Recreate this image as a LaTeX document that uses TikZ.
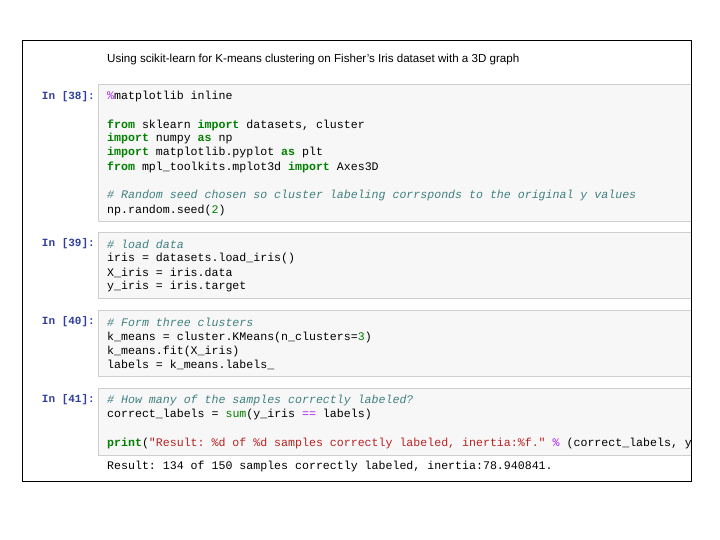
\documentclass[tikz,border=0pt]{standalone}
\usepackage{fontspec}
\setmainfont{Liberation Sans}
\setmonofont{Liberation Mono}
\definecolor{kwc}{RGB}{0,128,0}
\definecolor{cmc}{RGB}{64,128,128}
\definecolor{stc}{RGB}{186,33,33}
\definecolor{opc}{RGB}{170,34,255}
\definecolor{prc}{RGB}{48,63,159}
\definecolor{cellbg}{RGB}{247,247,247}
\definecolor{cellbd}{RGB}{207,207,207}
\newcommand{\kw}[1]{\textcolor{kwc}{\bfseries #1}}
\newcommand{\cm}[1]{\textcolor{cmc}{\itshape #1}}
\newcommand{\strc}[1]{\textcolor{stc}{#1}}
\newcommand{\nmc}[1]{\textcolor{kwc}{#1}}
\newcommand{\opr}[1]{\textcolor{opc}{#1}}
\begin{document}
\begin{tikzpicture}[x=1pt,y=-1pt,
  code/.style={anchor=west,inner sep=0pt,font=\ttfamily\fontsize{11.6}{14}\selectfont},
  prompt/.style={anchor=east,inner sep=0pt,text=prc,font=\ttfamily\bfseries\fontsize{11}{14}\selectfont},
  cellbox/.style={fill=cellbg,draw=cellbd,line width=0.8pt}]
\useasboundingbox (0,0) rectangle (720,540);
\fill[white] (0,0) rectangle (720,540);
\begin{scope}
\clip (22,40) rectangle (691,481);
\draw[cellbox] (98,84) rectangle (700,221);
\draw[cellbox] (98,232) rectangle (700,298);
\draw[cellbox] (98,310) rectangle (700,376);
\draw[cellbox] (98,388) rectangle (700,455);
\node[anchor=west,inner sep=0pt,font=\fontsize{11.6}{13}\selectfont] (title) at (107,60) {Using scikit-learn for K-means clustering on Fisher's Iris dataset with a 3D graph};
\node[prompt] (p1) at (95,97) {In [38]:};
\node[code] (a1) at (107,97) {\opr{\%}matplotlib inline};
\node[code] (a2) at (107,125) {\kw{from} sklearn \kw{import} datasets, cluster};
\node[code] (a3) at (107,139) {\kw{import} numpy \kw{as} np};
\node[code] (a4) at (107,153) {\kw{import} matplotlib.pyplot \kw{as} plt};
\node[code] (a5) at (107,167) {\kw{from} mpl\_toolkits.mplot3d \kw{import} Axes3D};
\node[code] (a6) at (107,196) {\cm{\# Random seed chosen so cluster labeling corrsponds to the original y values}};
\node[code] (a7) at (107,211) {np.random.seed(\nmc{2})};
\node[prompt] (p2) at (95,244) {In [39]:};
\node[code] (b1) at (107,244) {\cm{\# load data}};
\node[code] (b2) at (107,259) {iris = datasets.load\_iris()};
\node[code] (b3) at (107,273) {X\_iris = iris.data};
\node[code] (b4) at (107,287) {y\_iris = iris.target};
\node[prompt] (p3) at (95,322) {In [40]:};
\node[code] (c1) at (107,322) {\cm{\# Form three clusters}};
\node[code] (c2) at (107,337) {k\_means = cluster.KMeans(n\_clusters=\nmc{3})};
\node[code] (c3) at (107,351) {k\_means.fit(X\_iris)};
\node[code] (c4) at (107,365) {labels = k\_means.labels\_};
\node[prompt] (p4) at (95,400) {In [41]:};
\node[code] (d1) at (107,400) {\cm{\# How many of the samples correctly labeled?}};
\node[code] (d2) at (107,414) {correct\_labels = \nmc{sum}(y\_iris \opr{==} labels)};
\node[code] (d3) at (107,443) {\kw{print}(\strc{"Result: \%d of \%d samples correctly labeled, inertia:\%f."} \opr{\%} (correct\_labels, y};
\node[code] (o1) at (107,466) {Result: 134 of 150 samples correctly labeled, inertia:78.940841.};
\end{scope}
\draw[black,line width=0.8pt] (22,40) rectangle (691,481);
\end{tikzpicture}
\end{document}
